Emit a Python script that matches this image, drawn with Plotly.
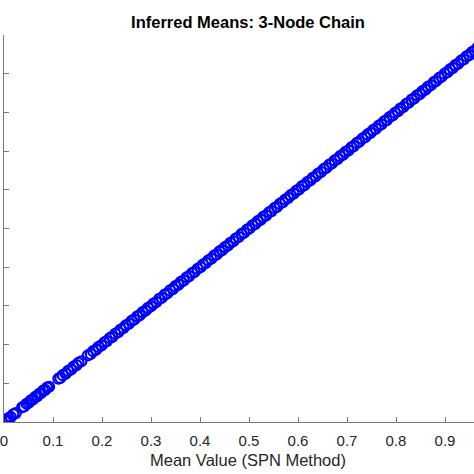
import plotly.graph_objects as go

# Mean values: SPN method (x) vs. reference inference (y)
spn_means = [
    0.002, 0.006, 0.010, 0.014, 0.019, 0.024, 0.037, 0.041, 0.046, 0.050,
    0.055, 0.059, 0.064, 0.068, 0.072, 0.076, 0.080, 0.084, 0.088, 0.092,
    0.111, 0.115, 0.120, 0.126, 0.131, 0.137, 0.142, 0.148, 0.152, 0.158,
    0.171, 0.177, 0.182, 0.188, 0.193, 0.199, 0.205, 0.210, 0.216, 0.221,
    0.227, 0.233, 0.238, 0.244, 0.249, 0.255, 0.261, 0.266, 0.272, 0.277,
    0.283, 0.289, 0.294, 0.300, 0.305, 0.311, 0.317, 0.322, 0.328, 0.333,
    0.339, 0.345, 0.350, 0.356, 0.361, 0.367, 0.373, 0.378, 0.384, 0.389,
    0.395, 0.401, 0.406, 0.412, 0.417, 0.423, 0.429, 0.434, 0.440, 0.445,
    0.451, 0.457, 0.462, 0.468, 0.473, 0.479, 0.485, 0.490, 0.496, 0.501,
    0.507, 0.513, 0.518, 0.524, 0.529, 0.535, 0.541, 0.546, 0.552, 0.557,
    0.563, 0.569, 0.574, 0.580, 0.585, 0.591, 0.597, 0.602, 0.608, 0.613,
    0.619, 0.625, 0.630, 0.636, 0.641, 0.647, 0.653, 0.658, 0.664, 0.669,
    0.675, 0.681, 0.686, 0.692, 0.697, 0.703, 0.709, 0.714, 0.720, 0.725,
    0.731, 0.737, 0.742, 0.748, 0.753, 0.759, 0.765, 0.770, 0.776, 0.781,
    0.787, 0.793, 0.798, 0.804, 0.809, 0.815, 0.821, 0.826, 0.832, 0.837,
    0.843, 0.849, 0.854, 0.860, 0.865, 0.871, 0.877, 0.882, 0.888, 0.893,
    0.899, 0.905, 0.910, 0.916, 0.921, 0.927, 0.933, 0.938, 0.944, 0.949,
    0.955, 0.961, 0.966, 0.972, 0.977, 0.983, 0.989, 0.994,
]
exact_means = [
    0.003, 0.005, 0.011, 0.013, 0.020, 0.023, 0.038, 0.040, 0.047, 0.049,
    0.056, 0.058, 0.065, 0.067, 0.073, 0.075, 0.081, 0.083, 0.089, 0.091,
    0.112, 0.114, 0.121, 0.125, 0.132, 0.136, 0.143, 0.147, 0.153, 0.157,
    0.172, 0.176, 0.183, 0.187, 0.194, 0.198, 0.206, 0.209, 0.217, 0.220,
    0.228, 0.232, 0.239, 0.243, 0.250, 0.254, 0.262, 0.265, 0.273, 0.276,
    0.284, 0.288, 0.295, 0.299, 0.306, 0.310, 0.318, 0.321, 0.329, 0.332,
    0.340, 0.344, 0.351, 0.355, 0.362, 0.366, 0.374, 0.377, 0.385, 0.388,
    0.396, 0.400, 0.407, 0.411, 0.418, 0.422, 0.430, 0.433, 0.441, 0.444,
    0.452, 0.456, 0.463, 0.467, 0.474, 0.478, 0.486, 0.489, 0.497, 0.500,
    0.508, 0.512, 0.519, 0.523, 0.530, 0.534, 0.542, 0.545, 0.553, 0.556,
    0.564, 0.568, 0.575, 0.579, 0.586, 0.590, 0.598, 0.601, 0.609, 0.612,
    0.620, 0.624, 0.631, 0.635, 0.642, 0.646, 0.654, 0.657, 0.665, 0.668,
    0.676, 0.680, 0.687, 0.691, 0.698, 0.702, 0.710, 0.713, 0.721, 0.724,
    0.732, 0.736, 0.743, 0.747, 0.754, 0.758, 0.766, 0.769, 0.777, 0.780,
    0.788, 0.792, 0.799, 0.803, 0.810, 0.814, 0.822, 0.825, 0.833, 0.836,
    0.844, 0.848, 0.855, 0.859, 0.866, 0.870, 0.878, 0.881, 0.889, 0.892,
    0.900, 0.904, 0.911, 0.915, 0.922, 0.926, 0.934, 0.937, 0.945, 0.948,
    0.956, 0.960, 0.967, 0.971, 0.978, 0.982, 0.990, 0.993,
]
x_ticks = [0, 0.1, 0.2, 0.3, 0.4, 0.5, 0.6, 0.7, 0.8, 0.9]
x_tick_labels = ["0", "0.1", "0.2", "0.3", "0.4", "0.5", "0.6", "0.7", "0.8", "0.9"]
y_ticks = [0, 0.1, 0.2, 0.3, 0.4, 0.5, 0.6, 0.7, 0.8, 0.9, 1.0]

W, H = 474, 474
L, R, T, B = 4, 0, 35, 52
pw = W - L - R
ph = H - T - B
px_per_unit = 490.0  # pixels per unit on x

fig = go.Figure()
fig.add_trace(go.Scatter(
    x=spn_means, y=exact_means, mode="markers",
    marker=dict(symbol="circle-open", size=10, color="#0000ff",
                line=dict(width=2.2, color="#0000ff")),
    hoverinfo="skip", showlegend=False,
))

axis_col = "#7a7a7a"
text_col = "#262626"
fig.update_layout(
    width=W, height=H,
    margin=dict(l=L, r=R, t=T, b=B, autoexpand=False),
    plot_bgcolor="white", paper_bgcolor="white",
    font=dict(family="Liberation Sans, Arial, sans-serif", color=text_col, size=15),
    xaxis=dict(
        range=[0, pw / px_per_unit], tickmode="array", tickvals=x_ticks,
        ticktext=x_tick_labels, ticks="inside", ticklen=5, tickcolor=axis_col,
        showline=True, linecolor=axis_col, linewidth=1, showgrid=False,
        zeroline=False, tickfont=dict(size=15, color=text_col),
        ticklabelstandoff=5, automargin=False, ticklabeloverflow="allow",
    ),
    yaxis=dict(
        range=[0, 1], tickmode="array", tickvals=y_ticks, showticklabels=False,
        ticks="inside", ticklen=5, tickcolor=axis_col,
        showline=True, linecolor=axis_col, linewidth=1, showgrid=False,
        zeroline=False, automargin=False,
    ),
    title=dict(text="<b>Inferred Means: 3-Node Chain</b>", xref="container",
               yref="container", x=248 / W, y=1 - 22 / H, xanchor="center",
               yanchor="middle", font=dict(size=16.5, color="#000000")),
)
fig.add_annotation(
    text="Mean Value (SPN Method)", xref="paper", yref="paper",
    x=(248 - L) / pw, y=-(460 - (T + ph)) / ph, xanchor="center",
    yanchor="middle", showarrow=False, font=dict(size=16.5, color=text_col),
)

fig.write_html(
    "out.html",
    config={"displayModeBar": False, "staticPlot": True},
    post_script="document.body.style.margin='0';document.body.style.overflow='hidden';",
)
